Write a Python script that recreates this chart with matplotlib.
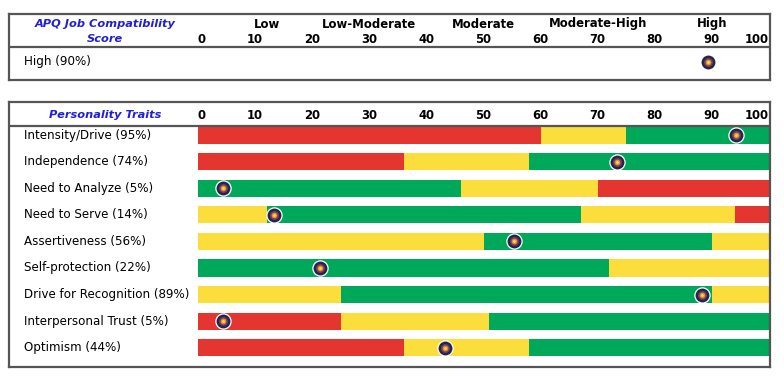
import matplotlib.pyplot as plt
from matplotlib.transforms import ScaledTranslation

# top table: job compatibility
compat_label = 'High (90%)'
compat_score = 90
band_names = ['Low', 'Low-Moderate', 'Moderate', 'Moderate-High', 'High']
band_pos = [12, 30, 50, 70, 90]
ticks = [0, 10, 20, 30, 40, 50, 60, 70, 80, 90, 100]

# bottom table: personality traits
traits = ['Intensity/Drive (95%)', 'Independence (74%)', 'Need to Analyze (5%)',
          'Need to Serve (14%)', 'Assertiveness (56%)', 'Self-protection (22%)',
          'Drive for Recognition (89%)', 'Interpersonal Trust (5%)', 'Optimism (44%)']
scores = [95, 74, 5, 14, 56, 22, 89, 5, 44]
# segment edges and colours per trait ('r' red, 'y' yellow, 'g' green)
edges = [[0, 60, 75, 100],
         [0, 36, 58, 100],
         [0, 46, 70, 100],
         [0, 12, 67, 94, 100],
         [0, 50, 90, 100],
         [0, 72, 100],
         [0, 25, 90, 100],
         [0, 25, 51, 100],
         [0, 36, 58, 100]]
zones = [['r', 'y', 'g'],
         ['r', 'y', 'g'],
         ['g', 'y', 'r'],
         ['y', 'g', 'y', 'r'],
         ['y', 'g', 'y'],
         ['g', 'y'],
         ['y', 'g', 'y'],
         ['r', 'y', 'g'],
         ['r', 'y', 'g']]

cmap = {'r': '#E53530', 'y': '#FBDD3C', 'g': '#00A859'}
blue = '#1F1FD8'
frame = '#555555'

W, H = 7.84, 3.79
fig = plt.figure(figsize=(W, H), dpi=100)
plt.rcParams['font.family'] = 'DejaVu Sans'

px = 5.71      # pixels per score unit
rowpx = 26.6   # pixels per row
x0 = 198       # pixel of score 0
xl = -(x0 - 9) / px
xr = (770 - x0) / px
lab_fs = 8.6
tick_fs = 8.4


def box(top, bottom):
    ax = fig.add_axes([9 / 784, 1 - bottom / 379, (770 - 9) / 784, (bottom - top) / 379])
    ax.set_xlim(xl, xr)
    ax.set_xticks([])
    ax.set_yticks([])
    for s in ax.spines.values():
        s.set_color(frame)
        s.set_linewidth(1.6)
    return ax


def target(ax, x, y):
    # the target icon sits a few pixels left of the score
    tr = ax.transData + ScaledTranslation(-4 / 100, 0, fig.dpi_scale_trans)
    kw = dict(zorder=3, linewidths=0, transform=tr)
    ax.scatter([x], [y], s=140, color='white', **kw)
    ax.scatter([x], [y], s=100, color='#26244A', **kw)
    ax.scatter([x], [y], s=42, color='#6B4060', **kw)
    ax.scatter([x], [y], s=17, color='#F08A30', **kw)
    ax.scatter([x], [y], s=4, color='#FFE04A', **kw)


def tick_row(ax, y):
    for t in ticks:
        ha = 'left' if t == 0 else ('right' if t == 100 else 'center')
        ax.text(t, y, str(t), ha=ha, va='center', fontsize=tick_fs, fontweight='bold')


# top box
ct, cb, crow = 14, 80, 62
ax1 = box(ct, cb)
ax1.set_ylim((cb - crow) / rowpx, (ct - crow) / rowpx)
ax1.axhline((47 - crow) / rowpx, color=frame, lw=1.6)
ax1.text((105 - x0) / px, (24 - crow) / rowpx, 'APQ Job Compatibility', ha='center',
         va='center', fontsize=8.2, fontweight='bold', fontstyle='italic', color=blue)
ax1.text((105 - x0) / px, (39.5 - crow) / rowpx, 'Score', ha='center',
         va='center', fontsize=8.2, fontweight='bold', fontstyle='italic', color=blue)
for name, p in zip(band_names, band_pos):
    ax1.text(p, (24 - crow) / rowpx, name, ha='center', va='center', fontsize=tick_fs,
             fontweight='bold')
tick_row(ax1, (39.5 - crow) / rowpx)
ax1.text((24 - x0) / px, 0, compat_label, ha='left', va='center', fontsize=lab_fs)
target(ax1, compat_score, 0)

# bottom box
bt, bb, brow = 102, 367, 135
ax2 = box(bt, bb)
ax2.set_ylim((bb - brow) / rowpx, (bt - brow) / rowpx)
ax2.axhline((126 - brow) / rowpx, color=frame, lw=1.6)
ax2.text((105 - x0) / px, (115 - brow) / rowpx, 'Personality Traits', ha='center', va='center',
         fontsize=8.2, fontweight='bold', fontstyle='italic', color=blue)
tick_row(ax2, (115 - brow) / rowpx)

for i, (name, sc, e, z) in enumerate(zip(traits, scores, edges, zones)):
    lefts = e[:-1]
    widths = [b - a for a, b in zip(e[:-1], e[1:])]
    ax2.barh([i] * len(widths), widths, left=lefts, height=0.64,
             color=[cmap[c] for c in z], linewidth=0)
    ax2.text((24 - x0) / px, i, name, ha='left', va='center', fontsize=lab_fs)
    target(ax2, sc, i)

plt.savefig('out.png', dpi=100)
